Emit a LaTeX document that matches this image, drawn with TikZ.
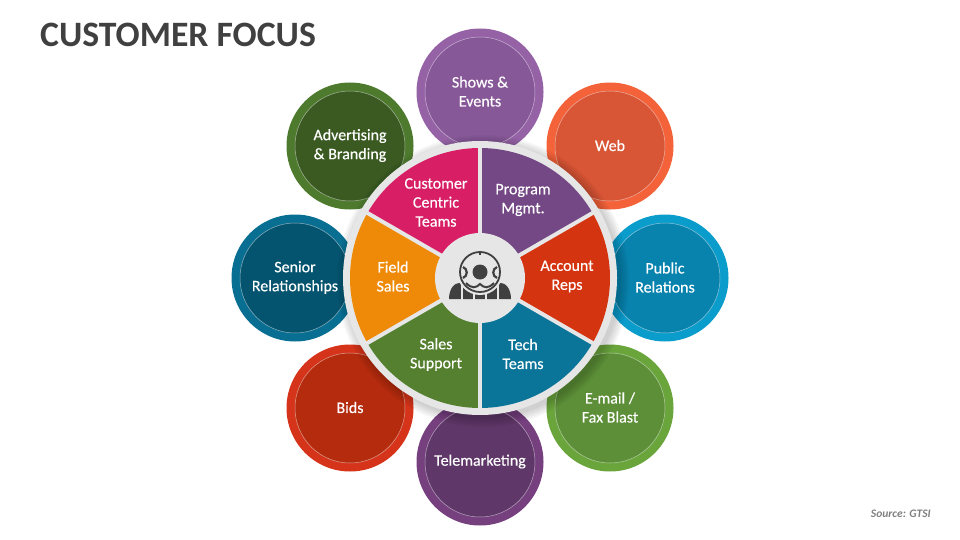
\documentclass[tikz,border=0pt]{standalone}
\usepackage{fontspec}
\setmainfont{Carlito}
\newfontfamily\labelfont[FakeBold=0.35]{Carlito}
\usetikzlibrary{positioning}
\definecolor{titlegray}{HTML}{404040}
\definecolor{wheelgray}{HTML}{E6E6E6}
\definecolor{sourcegray}{HTML}{7F7F7F}
\definecolor{showsring}{HTML}{9562A6}
\definecolor{showsfill}{HTML}{875898}
\definecolor{webring}{HTML}{F4623A}
\definecolor{webfill}{HTML}{D85535}
\definecolor{publicring}{HTML}{0A9CCB}
\definecolor{publicfill}{HTML}{0883AE}
\definecolor{emailring}{HTML}{6AA53C}
\definecolor{emailfill}{HTML}{5C8F37}
\definecolor{telering}{HTML}{76407F}
\definecolor{telefill}{HTML}{5F3768}
\definecolor{bidsring}{HTML}{D5341A}
\definecolor{bidsfill}{HTML}{B52B0E}
\definecolor{seniorring}{HTML}{086F92}
\definecolor{seniorfill}{HTML}{05546F}
\definecolor{advring}{HTML}{4E7A2E}
\definecolor{advfill}{HTML}{3A5A22}
\definecolor{segpink}{HTML}{D81F66}
\definecolor{segpurple}{HTML}{744785}
\definecolor{segred}{HTML}{D4340F}
\definecolor{segteal}{HTML}{0A7599}
\definecolor{seggreen}{HTML}{55802F}
\definecolor{segorange}{HTML}{EE8A07}
\tikzset{
  lobetext/.style={align=center,text=white,inner sep=0pt,
    font=\labelfont\fontsize{16}{19}\selectfont}
}
% centre x, centre y, colour name, node name, label
\newcommand{\lobecircle}[5]{
  \fill[#3ring] (#1,#2) circle (63.5);
  \draw[fill=#3fill,draw=white!55!#3fill,line width=0.5pt] (#1,#2) circle (55);
  \node[lobetext] (#4) at (#1,#2-0.5) {#5};
}
\begin{document}
\begin{tikzpicture}[x=1pt,y=-1pt]
  \useasboundingbox (0,0) rectangle (960,540);
  \node[anchor=west,inner sep=0pt,text=titlegray,font=\fontsize{35.7}{40}\selectfont\bfseries] (title) at (40,34.5) {CUSTOMER FOCUS};
  \node[anchor=east,inner sep=0pt,text=sourcegray,font=\fontsize{11.5}{13}\selectfont\bfseries\itshape] (source) at (931,514) {Source: GTSI};

  \lobecircle{480}{92}{shows}{shows}{Shows \&\\Events}
  \lobecircle{610}{146}{web}{web}{Web}
  \lobecircle{665}{278}{public}{public}{Public\\Relations}
  \lobecircle{610}{408}{email}{email}{E-mail /\\Fax Blast}
  \lobecircle{480}{462}{tele}{tele}{Telemarketing}
  \lobecircle{350}{408}{bids}{bids}{Bids}
  \lobecircle{295}{278}{senior}{senior}{Senior\\Relationships}
  \lobecircle{350}{146}{adv}{adv}{Advertising\\\& Branding}

  % wheel
  \foreach \r in {146,144,142,140,138} {\fill[black,opacity=0.04] (483,281) circle (\r);}
  \fill[wheelgray] (480,278) circle (137);
  \begin{scope}[y=1pt]
    \fill[segpurple] (480,-278) -- ++(30:130) arc[start angle=30,end angle=90,radius=130] -- cycle;
    \fill[segred] (480,-278) -- ++(-30:130) arc[start angle=-30,end angle=30,radius=130] -- cycle;
    \fill[segteal] (480,-278) -- ++(-90:130) arc[start angle=-90,end angle=-30,radius=130] -- cycle;
    \fill[seggreen] (480,-278) -- ++(210:130) arc[start angle=210,end angle=270,radius=130] -- cycle;
    \fill[segorange] (480,-278) -- ++(150:130) arc[start angle=150,end angle=210,radius=130] -- cycle;
    \fill[segpink] (480,-278) -- ++(90:130) arc[start angle=90,end angle=150,radius=130] -- cycle;
    \foreach \a in {30,90,...,330} {\draw[wheelgray,line width=4pt] (480,-278) -- ++(\a:132);}
  \end{scope}
  \fill[wheelgray] (480,278) circle (45);

  \node[lobetext] (customer) at (436,202.5) {Customer\\Centric\\Teams};
  \node[lobetext] (program) at (523,200) {Program\\Mgmt.};
  \node[lobetext] (account) at (567,276.5) {Account\\Reps};
  \node[lobetext] (tech) at (523,354) {Tech\\Teams};
  \node[lobetext] (support) at (436,354.5) {Sales\\Support};
  \node[lobetext] (field) at (393,276.5) {Field\\Sales};

  % icon
  \fill[titlegray] (449,299) .. controls (449,292) and (452,283) .. (460,283) -- (500,283) .. controls (508,283) and (511,292) .. (511,299) -- cycle;
  \fill[wheelgray] (480,272) circle (23);
  \foreach \x in {462,474,486,498} {\draw[wheelgray,line width=2pt] (\x,284) -- (\x,300);}
  \draw[titlegray,line width=1.8pt] (480,272) circle (20);
  \draw[titlegray,line width=1.2pt] (480,250.5) -- (480,255);
  \fill[titlegray] (480,272) circle (7.5);
  \draw[titlegray,line width=2.2pt] (463,267) .. controls (468,269) and (468,276) .. (463,278);
  \draw[titlegray,line width=2.2pt] (497,267) .. controls (492,269) and (492,276) .. (497,278);
  \draw[titlegray,line width=2pt] (466,283) .. controls (472,289) and (476,288) .. (480,284) .. controls (484,288) and (488,289) .. (494,283);
\end{tikzpicture}
\end{document}
